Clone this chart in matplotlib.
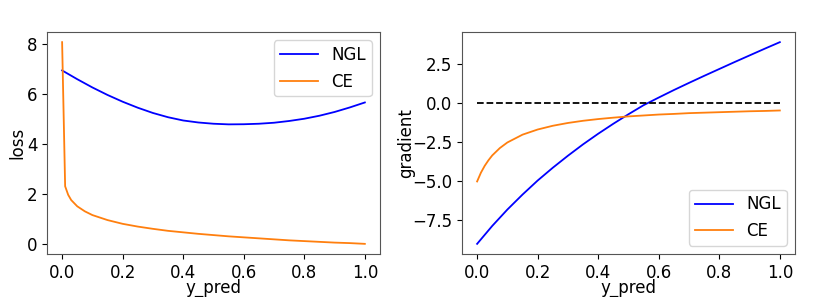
import matplotlib
matplotlib.use("Agg")
import matplotlib.pyplot as plt

# ---- data ----
x_ngl = [0.0, 0.05, 0.1, 0.15, 0.2, 0.25, 0.3, 0.35, 0.4, 0.45, 0.5,
         0.55, 0.6, 0.65, 0.7, 0.75, 0.8, 0.85, 0.9, 0.95, 1.0]
ngl_loss = [6.93, 6.58, 6.25, 5.95, 5.68, 5.44, 5.23, 5.06, 4.93, 4.85, 4.80,
            4.775, 4.78, 4.80, 4.84, 4.91, 5.00, 5.12, 5.27, 5.45, 5.65]
ngl_grad = [-9.0, -7.85, -6.80, -5.84, -4.94, -4.12, -3.35, -2.62, -1.94, -1.30, -0.69,
            -0.11, 0.38, 0.86, 1.32, 1.77, 2.21, 2.65, 3.08, 3.51, 3.93]

x_ce_loss = [0.0, 0.01, 0.02, 0.03, 0.05, 0.075, 0.1, 0.15, 0.2, 0.25, 0.3, 0.35, 0.4,
             0.45, 0.5, 0.55, 0.6, 0.65, 0.7, 0.75, 0.8, 0.85, 0.9, 0.95, 1.0]
ce_loss = [8.06, 2.30, 1.96, 1.75, 1.50, 1.30, 1.15, 0.95, 0.80, 0.69, 0.60, 0.52, 0.46,
           0.40, 0.35, 0.30, 0.26, 0.22, 0.18, 0.14, 0.11, 0.08, 0.05, 0.03, 0.0]

x_ce_grad = [0.0, 0.0125, 0.025, 0.0375, 0.05, 0.075, 0.1, 0.15, 0.2, 0.25, 0.3, 0.35, 0.4,
             0.45, 0.5, 0.55, 0.6, 0.65, 0.7, 0.75, 0.8, 0.85, 0.9, 0.95, 1.0]
ce_grad = [-5.0, -4.44, -4.0, -3.64, -3.33, -2.86, -2.5, -2.0, -1.67, -1.43, -1.25, -1.11, -1.0,
           -0.91, -0.83, -0.77, -0.71, -0.67, -0.62, -0.59, -0.56, -0.53, -0.5, -0.48, -0.45]

zero_x = [0.0, 1.0]
zero_y = [0.0, 0.0]

plt.rcParams['font.family'] = ['DejaVu Sans']
plt.rcParams['font.size'] = 12

FS = 12
LW = 1.3

fig = plt.figure(figsize=(8.3, 2.97), dpi=100)
ax1 = fig.add_axes([0.0566, 0.145, 0.4012, 0.747])
ax2 = fig.add_axes([0.5566, 0.145, 0.4012, 0.747])

ax1.plot(x_ngl, ngl_loss, color='blue', lw=LW, label='NGL')
ax1.plot(x_ce_loss, ce_loss, color='#ff7f0e', lw=LW, label='CE')
ax1.set_xlabel('y_pred', fontsize=FS, labelpad=-2)
ax1.set_ylabel('loss', fontsize=FS, labelpad=0)
ax1.set_yticks([0, 2, 4, 6, 8])
ax1.legend(loc='upper right', fontsize=FS, borderpad=0.35, labelspacing=0.5,
           handlelength=2.3)

ax2.plot(x_ngl, ngl_grad, color='blue', lw=LW, label='NGL')
ax2.plot(x_ce_grad, ce_grad, color='#ff7f0e', lw=LW, label='CE')
ax2.plot(zero_x, zero_y, color='black', ls='--', lw=LW)
ax2.set_xlabel('y_pred', fontsize=FS, labelpad=-2)
ax2.set_ylabel('gradient', fontsize=FS, labelpad=-2)
ax2.set_yticks([-7.5, -5.0, -2.5, 0.0, 2.5])
ax2.legend(loc='lower right', fontsize=FS, borderpad=0.35, labelspacing=0.5,
           handlelength=2.3)

for ax in (ax1, ax2):
    ax.set_xticks([0.0, 0.2, 0.4, 0.6, 0.8, 1.0])
    ax.tick_params(labelsize=FS)
    for s in ax.spines.values():
        s.set_color('#555555')

fig.savefig('out.png', dpi=100)
